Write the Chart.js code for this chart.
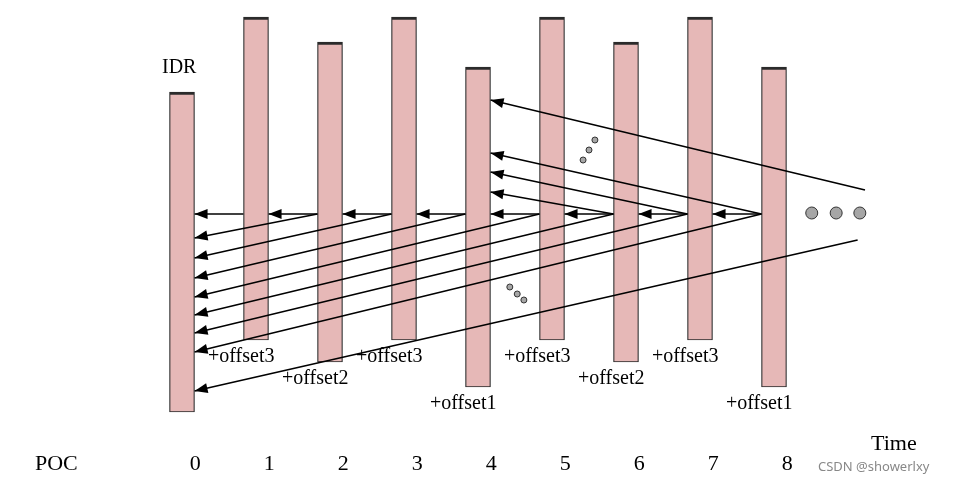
<!DOCTYPE html>
<html>
<head>
<meta charset="utf-8">
<script src="https://cdn.jsdelivr.net/npm/chart.js@4/dist/chart.umd.min.js"></script>
<style>
  html, body { margin: 0; padding: 0; background: #fff; }
  #wrap { width: 953px; height: 483px; position: relative; }
</style>
</head>
<body>
<div id="wrap"><canvas id="c"></canvas></div>
<script>
'use strict';

// POC slots and the pixel-like vertical span of each frame bar (0 = top)
var pocs = [0, 1, 2, 3, 4, 5, 6, 7, 8];
var barTops = [92, 17, 42, 17, 67, 17, 42, 17, 67];
var barBottoms = [412, 340, 362, 340, 387, 340, 362, 340, 387];
var offsetLabels = ['', '+offset3', '+offset2', '+offset3', '+offset1', '+offset3', '+offset2', '+offset3', '+offset1'];

// reference arrows: source POC, source level, target POC, target level (>8.5 = beyond frame 8)
var arrowFrom = [1, 2, 3, 4, 5, 6, 7, 8,   2, 3, 4, 5, 6, 7, 8, 9.13,   6, 7, 8, 9.23];
var arrowFromY = [214, 214, 214, 214, 214, 214, 214, 214,   214, 214, 214, 214, 214, 214, 214, 240,   214, 214, 214, 190];
var arrowTo = [0, 1, 2, 3, 4, 5, 6, 7,   0, 0, 0, 0, 0, 0, 0, 0,   4, 4, 4, 4];
var arrowToY = [214, 214, 214, 214, 214, 214, 214, 214,   238, 258, 278, 297, 315, 333, 352, 391,   192, 172, 153, 100];

// ellipsis dots
var bigDotsX = [8.51, 8.84, 9.16];
var bigDotsY = [213, 213, 213];
var smallDotsX = [5.42, 5.5, 5.58, 4.43, 4.53, 4.62];
var smallDotsY = [160, 150, 140, 287, 294, 300];

var halfBar = 0.17;

var datasets = [];
datasets.push({
    type: 'bar',
    data: pocs.map(function (p, i) { return { x: p, y: [barBottoms[i], barTops[i]] }; }),
    backgroundColor: '#e6b8b7',
    borderColor: '#2b2b2b',
    borderWidth: { left: 1.2, right: 1.2, top: 3, bottom: 1.2 },
    borderSkipped: false,
    barThickness: 25,
    order: 2
});

arrowFrom.forEach(function (f, i) {
    var fx = f > 8.5 ? f : f - halfBar;
    var tx = arrowTo[i] + halfBar;
    datasets.push({
        type: 'line',
        arrow: true,
        data: [{ x: fx, y: arrowFromY[i] }, { x: tx, y: arrowToY[i] }],
        borderColor: '#000',
        borderWidth: 1.6,
        pointRadius: 0,
        order: 1
    });
});

datasets.push({
    type: 'scatter',
    data: bigDotsX.map(function (x, i) { return { x: x, y: bigDotsY[i] }; }),
    backgroundColor: '#a6a6a6',
    borderColor: '#333',
    borderWidth: 1,
    pointRadius: 6,
    order: 0
});
datasets.push({
    type: 'scatter',
    data: smallDotsX.map(function (x, i) { return { x: x, y: smallDotsY[i] }; }),
    backgroundColor: '#a6a6a6',
    borderColor: '#333',
    borderWidth: 1,
    pointRadius: 3,
    order: 0
});

var decor = {
    id: 'decor',
    afterDatasetsDraw: function (chart) {
        var ctx = chart.ctx;
        var xs = chart.scales.x, ys = chart.scales.y;
        ctx.save();
        // arrowheads
        chart.data.datasets.forEach(function (ds, i) {
            if (!ds.arrow) return;
            var pts = chart.getDatasetMeta(i).data;
            var a = pts[0], b = pts[1];
            var ang = Math.atan2(b.y - a.y, b.x - a.x);
            var L = 13, W = 5;
            ctx.fillStyle = '#000';
            ctx.beginPath();
            ctx.moveTo(b.x, b.y);
            ctx.lineTo(b.x - L * Math.cos(ang) + W * Math.sin(ang), b.y - L * Math.sin(ang) - W * Math.cos(ang));
            ctx.lineTo(b.x - L * Math.cos(ang) - W * Math.sin(ang), b.y - L * Math.sin(ang) + W * Math.cos(ang));
            ctx.closePath();
            ctx.fill();
        });
        ctx.fillStyle = '#000';
        ctx.font = '20px "Liberation Serif", serif';
        ctx.textBaseline = 'alphabetic';
        ctx.textAlign = 'left';
        // offset labels under each bar
        pocs.forEach(function (p, i) {
            if (!offsetLabels[i]) return;
            var y = ys.getPixelForValue(barBottoms[i]) + 22;
            ctx.fillText(offsetLabels[i], xs.getPixelForValue(p) - 48, y);
        });
        ctx.fillText('IDR', 162, 73);
        // POC row
        ctx.font = '22px "Liberation Serif", serif';
        ctx.fillText('POC', 35, 470);
        ctx.fillText('Time', 871, 450);
        ctx.textAlign = 'center';
        pocs.forEach(function (p) {
            ctx.fillText(String(p), xs.getPixelForValue(p + 0.18), 470);
        });
        ctx.textAlign = 'left';
        ctx.font = '13px "Noto Sans", sans-serif';
        ctx.fillStyle = '#888';
        ctx.fillText('CSDN @showerlxy', 818, 471);
        ctx.restore();
    }
};

new Chart(document.getElementById('c').getContext('2d'), {
    data: { datasets: datasets },
    options: {
        responsive: true,
        maintainAspectRatio: false,
        animation: false,
        layout: { padding: 0, autoPadding: false },
        plugins: { legend: { display: false }, tooltip: { enabled: false } },
        scales: {
            x: { type: 'linear', offset: false, min: -182 / 74, max: (953 - 182) / 74, display: false },
            y: { type: 'linear', min: 0, max: 483, reverse: true, display: false }
        }
    },
    plugins: [decor]
});
</script>
</body>
</html>
